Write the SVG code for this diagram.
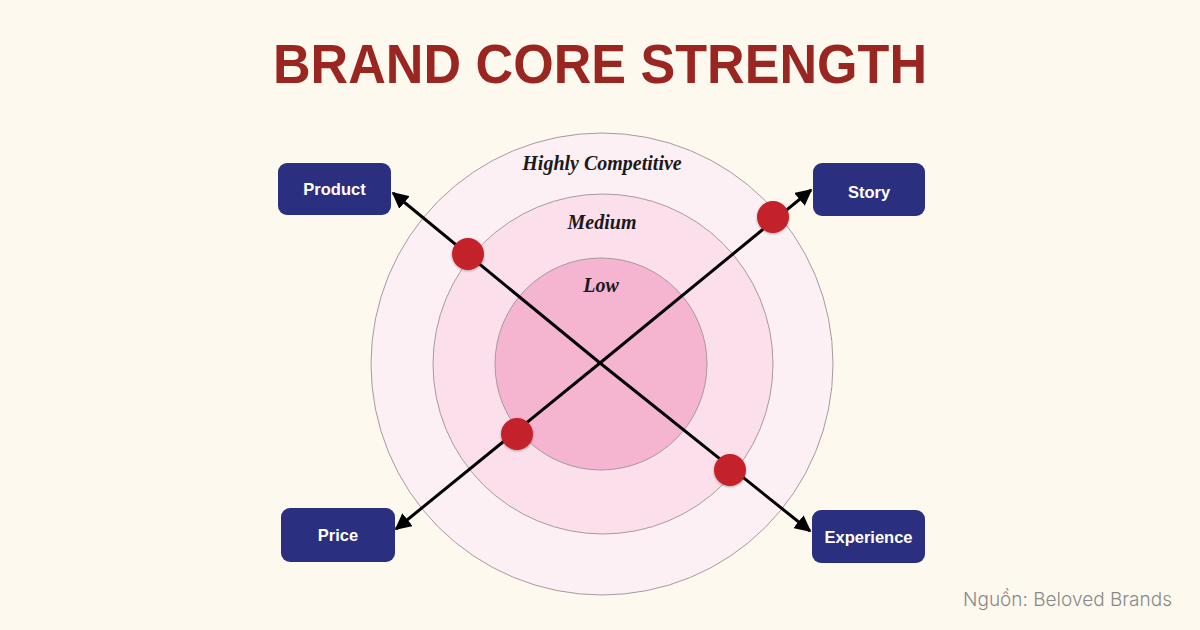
<svg xmlns="http://www.w3.org/2000/svg" width="1200" height="630" viewBox="0 0 1200 630">
<defs>
<style>
.box{fill:#2b2f80;}
.bt{fill:#fff;font-family:"Liberation Sans",Arial,sans-serif;font-weight:bold;font-size:16.5px;text-anchor:middle;}
.ring{stroke:#a8999e;stroke-width:1;}
.lvl{font-family:"Liberation Serif","Times New Roman",serif;font-style:italic;font-weight:bold;font-size:20px;fill:#1a1a1a;text-anchor:middle;}
.con{stroke:#000;stroke-width:3;fill:none;marker-end:url(#ah);}
.dot{fill:#c3202b;}
</style>
<marker id="ah" viewBox="0 0 10 10" refX="9" refY="5" markerWidth="5.5" markerHeight="5.5" orient="auto" markerUnits="strokeWidth">
<path d="M0,0 L10,5 L0,10 z" fill="#000"/>
</marker>
<filter id="sh" x="-30%" y="-30%" width="160%" height="160%">
<feDropShadow dx="0" dy="1" stdDeviation="1" flood-color="#000" flood-opacity="0.3"/>
</filter>
</defs>
<rect width="1200" height="630" fill="#fdf9ee"/>
<text x="600" y="83" font-family="'Liberation Sans',Arial,sans-serif" font-weight="bold" font-size="56" fill="#9a2621" text-anchor="middle" textLength="654" lengthAdjust="spacingAndGlyphs">BRAND CORE STRENGTH</text>
<g id="rings">
<circle class="ring" cx="602" cy="364" r="231" fill="#fcf0f4"/>
<circle class="ring" cx="603" cy="364" r="170" fill="#fbdfea"/>
<circle class="ring" cx="601" cy="364" r="106" fill="#f5b4cf"/>
<text class="lvl" x="602" y="170">Highly Competitive</text>
<text class="lvl" x="602" y="229">Medium</text>
<text class="lvl" x="601" y="292">Low</text>
</g>
<g id="connectors">
<line class="con" x1="600" y1="363" x2="393" y2="193"/>
<line class="con" x1="600" y1="363" x2="811" y2="190"/>
<line class="con" x1="600" y1="363" x2="396" y2="529"/>
<line class="con" x1="600" y1="363" x2="810" y2="531"/>
</g>
<g id="dots" filter="url(#sh)">
<circle class="dot" cx="468" cy="254" r="16"/>
<circle class="dot" cx="773" cy="217" r="16"/>
<circle class="dot" cx="517" cy="434" r="16"/>
<circle class="dot" cx="730" cy="470" r="16"/>
</g>
<g id="product"><rect class="box" x="278" y="163" width="113" height="52" rx="9"/><text class="bt" x="334.5" y="195">Product</text></g>
<g id="story"><rect class="box" x="813" y="163" width="112" height="53" rx="9"/><text class="bt" x="869" y="198">Story</text></g>
<g id="price"><rect class="box" x="281" y="508" width="114" height="54" rx="9"/><text class="bt" x="338" y="541">Price</text></g>
<g id="experience"><rect class="box" x="812" y="510" width="113" height="53" rx="9"/><text class="bt" x="868.5" y="543">Experience</text></g>
<text x="1172" y="606" font-family="Inter,'Noto Sans',sans-serif" font-weight="300" font-size="19" fill="#8a8a8a" text-anchor="end" textLength="209" lengthAdjust="spacingAndGlyphs">Nguồn: Beloved Brands</text>
</svg>
